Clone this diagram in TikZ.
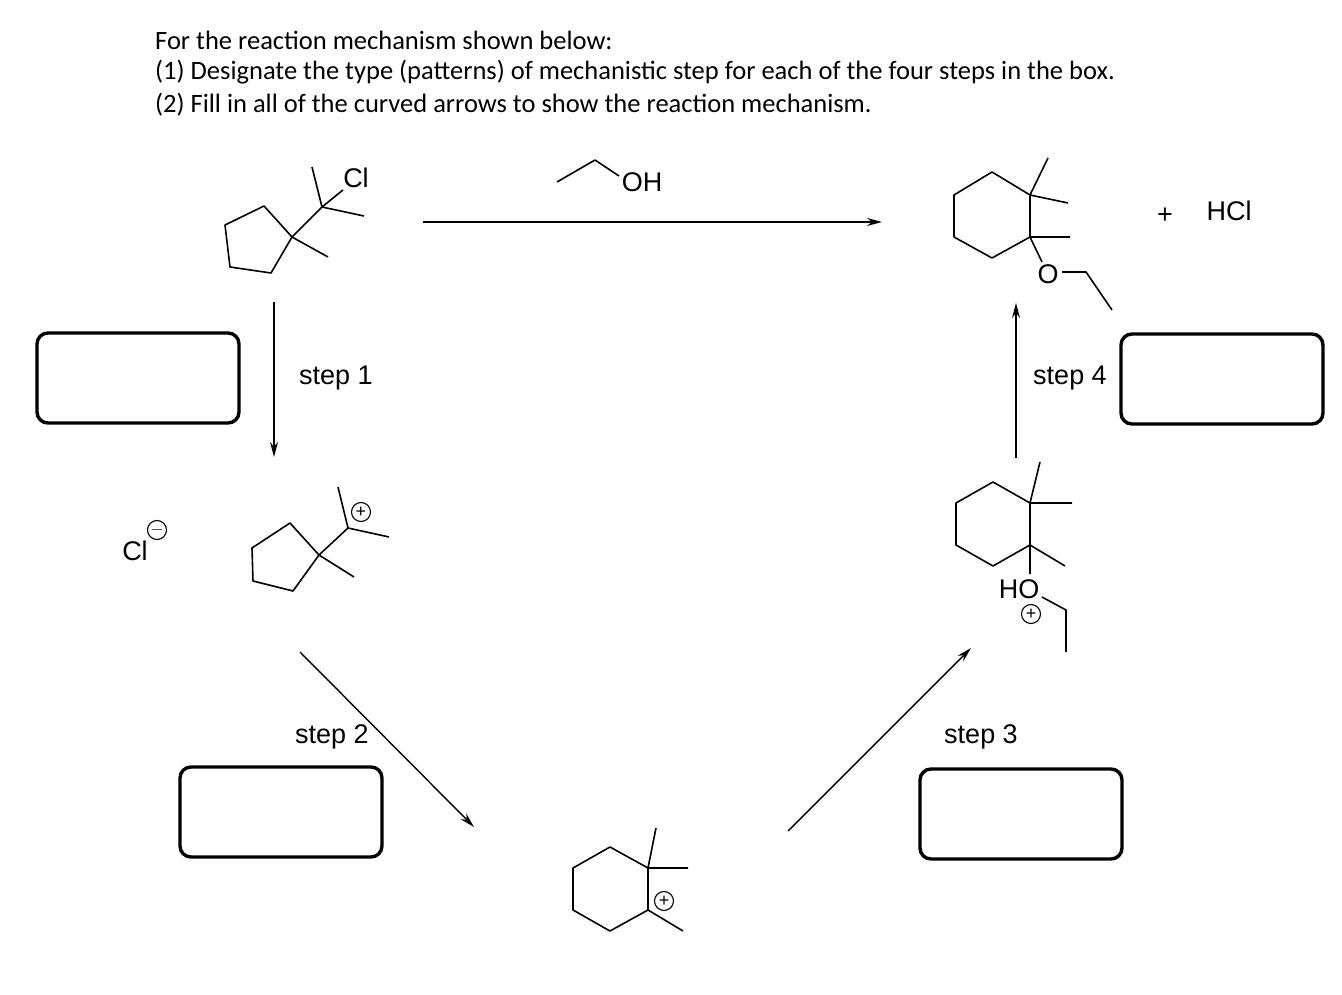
\documentclass[tikz,border=0pt]{standalone}
\usepackage{fontspec}
\setmainfont{Liberation Sans}
\newfontfamily\carlitofont{Carlito}
\usetikzlibrary{arrows.meta}
\begin{document}
\begin{tikzpicture}[x=1pt,y=-1pt,
 bond/.style={line width=1.6pt,line join=round},
 arr/.style={line width=1.4pt,-{Stealth[length=15pt,width=8pt]}},
 box/.style={draw,line width=3.4pt,rounded corners=11pt},
 lab/.style={font=\fontsize{27}{30}\selectfont,inner sep=0},
 hdr/.style={anchor=west,font=\carlitofont\fontsize{26.5}{28}\selectfont,inner sep=0},
 chg/.style={draw,circle,line width=1.1pt,minimum size=19pt,inner sep=0,font=\fontsize{18}{18}\selectfont}]
\useasboundingbox (0,0) rectangle (1342,995);
\node[hdr] (h1) at (155,40) {For the reaction mechanism shown below:};
\node[hdr] (h2) at (155,72) {(1) Designate the type (patterns) of mechanistic step for each of the four steps in the box.};
\node[hdr] (h3) at (155,105) {(2) Fill in all of the curved arrows to show the reaction mechanism.};
% top-left reactant
\draw[bond] (225,225)--(264,206)--(292,237)--(271,273)--(230,267)--cycle;
\draw[bond] (292,237)--(322,207) (292,237)--(328,257);
\draw[bond] (322,207)--(312,167) (322,207)--(364,216) (322,207)--(343,190);
\node[lab] (cl1) at (356,178) {Cl};
% ethanol
\draw[bond] (557,182)--(595,160)--(619,176);
\node[lab] (oh) at (642,182) {OH};
% product
\draw[bond] (954,195)--(992,172)--(1030,195)--(1030,237)--(992,258)--(954,237)--cycle;
\draw[bond] (1030,195)--(1048,158) (1030,195)--(1068,203) (1030,237)--(1070,237) (1030,237)--(1042,262);
\node[lab] (o1) at (1048,274) {O};
\draw[bond] (1062,272)--(1086,272)--(1112,310);
\node[lab] (plus) at (1165,216) {+};
\node[lab] (hcl) at (1229,211) {HCl};
% main arrows
\coordinate (a1s) at (423,222); \coordinate (a1e) at (882,222);
\draw[arr] (a1s)--(a1e);
\coordinate (s1a) at (274,302); \coordinate (s1b) at (274,457);
\draw[arr] (s1a)--(s1b);
\coordinate (s4a) at (1016,458); \coordinate (s4b) at (1016,303);
\draw[arr] (s4a)--(s4b);
\coordinate (s2a) at (300,652); \coordinate (s2b) at (474,827);
\draw[arr] (s2a)--(s2b);
\coordinate (s3a) at (788,831); \coordinate (s3b) at (971,648);
\draw[arr] (s3a)--(s3b);
\node[lab] (t1) at (336,378) {step 1};
\node[lab] (t4) at (1070,378) {step 4};
\node[lab] (t2) at (332,737) {step 2};
\node[lab] (t3) at (981,737) {step 3};
% boxes
\draw[box] (37,333) rectangle (239,423);
\draw[box] (1121,334) rectangle (1323,424);
\draw[box] (180,767) rectangle (382,857);
\draw[box] (920,769) rectangle (1122,859);
% chloride
\node[lab] (cl2) at (135,551) {Cl};
\node[chg] (m1) at (157,530) {$-$};
% first cation
\draw[bond] (252,548)--(290,523)--(319,555)--(293,591)--(253,581)--cycle;
\draw[bond] (319,555)--(348,528) (319,555)--(354,577) (348,528)--(338,487) (348,528)--(389,537);
\node[chg] (p1) at (361,512) {+};
% bottom cation
\draw[bond] (573,868)--(610,847)--(648,868)--(648,910)--(610,931)--(573,910)--cycle;
\draw[bond] (648,868)--(656,828) (648,868)--(688,868) (648,910)--(683,931);
\node[chg] (p2) at (664,901) {+};
% oxonium
\draw[bond] (956,503)--(993,482)--(1030,503)--(1030,545)--(993,566)--(956,545)--cycle;
\draw[bond] (1030,503)--(1040,462) (1030,503)--(1072,503) (1030,545)--(1065,566) (1030,545)--(1030,574);
\node[lab] (ho) at (1019,589) {HO};
\node[chg] (p3) at (1031,614) {+};
\draw[bond] (1042,597)--(1066,610)--(1066,652);
\end{tikzpicture}
\end{document}
